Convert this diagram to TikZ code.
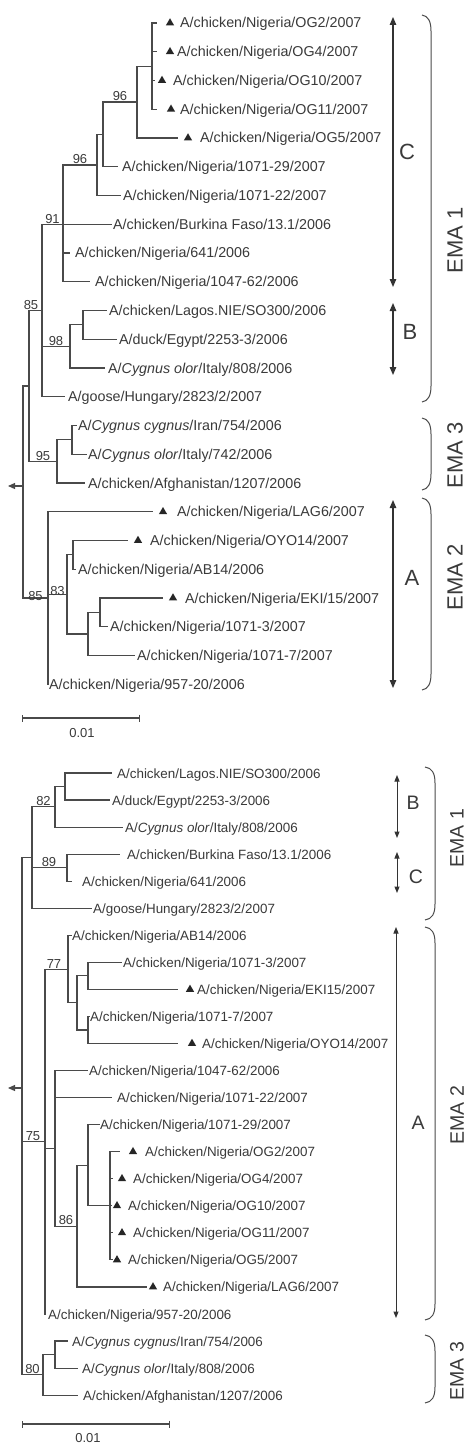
\documentclass[tikz,border=0pt]{standalone}
\usepackage{fontspec}
\setmainfont{Liberation Sans}
\usetikzlibrary{arrows.meta,shapes.geometric}
\definecolor{txtc}{HTML}{3A3A3A}
\definecolor{linec}{HTML}{4A4A4A}
\newcommand\myfT{\fontsize{14.3}{16}\selectfont}
\newcommand\myfB{\fontsize{13.4}{15}\selectfont}
\newcommand\myfS{\fontsize{13}{15}\selectfont}
\newcommand\myfL{\fontsize{22}{24}\selectfont}
\newcommand\myfLb{\fontsize{19.5}{22}\selectfont}
\newcommand\lf[7]{\coordinate (#1t) at (#3,#4);
  \node[#7] (#1) at (#5,#4+5) {#6};
  \draw[br] (#2) |- (#1t);}
\newcommand\trin[3]{\node[tri] (#1) at (#2,#3) {};}
\newcommand\brk[4]{\draw[brc] (#1,#3) .. controls (#2-3,#3+1) and (#2,#3+6) .. (#2,#3+16) -- (#2,#4-16) .. controls (#2,#4-6) and (#2-3,#4-1) .. (#1,#4);}
\begin{document}
\begin{tikzpicture}[x=1pt,y=-1pt,
  br/.style={draw=linec,line width=1.15pt},
  brc/.style={draw=linec,line width=1pt},
  tl/.style={anchor=base west,inner sep=0pt,text=txtc,font=\myfT},
  bl/.style={anchor=base west,inner sep=0pt,text=txtc,font=\myfB},
  bsup/.style={anchor=south,inner sep=0.8pt,text=txtc,font=\myfS},
  tri/.style={regular polygon,regular polygon sides=3,fill=black!85,inner sep=0pt,minimum size=9.5pt},
  garrow/.style={draw=black!80,line width=1.2pt,{Triangle[length=8pt,width=6.5pt]}-{Triangle[length=8pt,width=6.5pt]}},
  garrowb/.style={draw=black!80,line width=1pt,{Triangle[length=6.5pt,width=5pt]}-{Triangle[length=6.5pt,width=5pt]}},
  glet/.style={text=txtc,font=\myfL,inner sep=0pt},
  gletb/.style={text=txtc,font=\myfLb,inner sep=0pt},
  ema/.style={text=txtc,font=\myfL,rotate=90,inner sep=0pt},
  emab/.style={text=txtc,font=\myfLb,rotate=90,inner sep=0pt}]
\fill[white] (0,0) rectangle (474,1455);
\useasboundingbox (0,0) rectangle (474,1455);

% ================= TOP TREE =================
\coordinate (ogc) at (152,66.1);
\coordinate (n5) at (137,102);
\coordinate (n96a) at (103,134.4);
\coordinate (n96b) at (97,165);
\coordinate (nC) at (63,224.25);
\coordinate (nBs) at (83,324.9);
\coordinate (nB) at (70,346.4);
\coordinate (nE1) at (42,310.5);
\coordinate (nE3s) at (72,439.9);
\coordinate (nE3) at (57,461.4);
\coordinate (n13) at (29,386);
\coordinate (nA1) at (73,554.9);
\coordinate (nA2) at (100,612.4);
\coordinate (nA3) at (88,634);
\coordinate (n83) at (67,594.4);
\coordinate (nE2) at (48,598);
\coordinate (root) at (23,486);
\coordinate (rootend) at (8,486);

\draw[br] (n5) |- (ogc);
\draw[br] (n96a) |- (n5);
\draw[br] (n96b) |- (n96a);
\draw[br] (nC) |- (n96b);
\draw[br] (nE1) |- (nC);
\draw[br] (nB) |- (nBs);
\draw[br] (nE1) |- (nB);
\draw[br] (n13) |- (nE1);
\draw[br] (nE3) |- (nE3s);
\draw[br] (n13) |- (nE3);
\draw[br] (root) |- (n13);
\draw[br] (nA3) |- (nA2);
\draw[br] (n83) |- (nA1);
\draw[br] (n83) |- (nA3);
\draw[br] (nE2) |- (n83);
\draw[br] (root) |- (nE2);
\draw[br,-{Triangle[length=7pt,width=6pt]}] (root) -- (rootend);

\lf{tOGa}{ogc}{157}{23}{180}{A/chicken/Nigeria/OG2/2007}{tl}
\lf{tOGb}{ogc}{157}{51.75}{177}{A/chicken/Nigeria/OG4/2007}{tl}
\lf{tOGc}{ogc}{155}{80.5}{173}{A/chicken/Nigeria/OG10/2007}{tl}
\lf{tOGd}{ogc}{157}{109.25}{180}{A/chicken/Nigeria/OG11/2007}{tl}
\lf{tOGe}{n5}{178}{138}{200}{A/chicken/Nigeria/OG5/2007}{tl}
\trin{tmA}{170}{23}
\trin{tmB}{170}{51.75}
\trin{tmC}{162}{80.5}
\trin{tmD}{171}{109.25}
\trin{tmE}{188}{138}
\lf{tN29}{n96a}{118}{166.75}{122}{A/chicken/Nigeria/1071-29/2007}{tl}
\lf{tN22}{n96b}{121}{195.5}{123}{A/chicken/Nigeria/1071-22/2007}{tl}
\lf{tBF}{nC}{112}{224.25}{113}{A/chicken/Burkina Faso/13.1/2006}{tl}
\lf{tN641}{nC}{70}{253}{75}{A/chicken/Nigeria/641/2006}{tl}
\lf{tN1047}{nC}{90}{281.75}{95}{A/chicken/Nigeria/1047-62/2006}{tl}
\lf{tLag}{nBs}{107}{310.5}{109}{A/chicken/Lagos.NIE/SO300/2006}{tl}
\lf{tDuck}{nBs}{117}{339.25}{119}{A/duck/Egypt/2253-3/2006}{tl}
\lf{tCo808}{nB}{105}{368}{108}{A/\textit{Cygnus olor}/Italy/808/2006}{tl}
\lf{tGoose}{nE1}{65}{396.75}{68}{A/goose/Hungary/2823/2/2007}{tl}
\lf{tCc}{nE3s}{77}{425.5}{78}{A/\textit{Cygnus cygnus}/Iran/754/2006}{tl}
\lf{tCo742}{nE3s}{87}{454.25}{88}{A/\textit{Cygnus olor}/Italy/742/2006}{tl}
\lf{tAfg}{nE3}{85}{483}{88}{A/chicken/Afghanistan/1207/2006}{tl}
\lf{tLAG}{nE2}{153}{511.75}{177}{A/chicken/Nigeria/LAG6/2007}{tl}
\lf{tOYO}{nA1}{128}{540.5}{150}{A/chicken/Nigeria/OYO14/2007}{tl}
\lf{tAB}{nA1}{76}{569.25}{78}{A/chicken/Nigeria/AB14/2006}{tl}
\lf{tEKI}{nA2}{163}{598}{185}{A/chicken/Nigeria/EKI/15/2007}{tl}
\lf{tN3}{nA2}{108}{626.75}{110}{A/chicken/Nigeria/1071-3/2007}{tl}
\lf{tN7}{nA3}{135}{655.5}{137}{A/chicken/Nigeria/1071-7/2007}{tl}
\lf{tN957}{nE2}{49}{684.25}{49}{A/chicken/Nigeria/957-20/2006}{tl}
\trin{tmF}{163}{511.75}
\trin{tmG}{138}{540.5}
\trin{tmH}{173}{598}

\node[bsup] (sA) at (120,102) {96};
\node[bsup] (sB) at (80,165) {96};
\node[bsup] (sC) at (52.5,224.25) {91};
\node[bsup] (sD) at (31,310.5) {85};
\node[bsup] (sE) at (56,346.4) {98};
\node[bsup] (sF) at (43,461.4) {95};
\node[bsup] (sG) at (35.5,602) {85};
\node[bsup] (sH) at (57.5,597) {83};

\coordinate (sbA1) at (22,718);
\coordinate (sbA2) at (140,718);
\draw[br,{Bar[width=7pt]}-{Bar[width=7pt]}] (sbA1) -- (sbA2);
\node[text=txtc,font=\myfS,inner sep=0pt] (sbAt) at (82,733) {0.01};

\coordinate (gC1) at (393,17);
\coordinate (gC2) at (393,287);
\draw[garrow] (gC1) -- (gC2);
\node[glet] (gCt) at (407,152) {C};
\coordinate (gB1) at (393,303);
\coordinate (gB2) at (393,375);
\draw[garrow] (gB1) -- (gB2);
\node[glet] (gBt) at (410,332) {B};
\coordinate (gA1) at (393,500);
\coordinate (gA2) at (393,688);
\draw[garrow] (gA1) -- (gA2);
\node[glet] (gAt) at (412,578) {A};
\brk{422}{431}{15}{402}
\brk{422}{431}{418}{490}
\brk{422}{431}{498}{690}
\node[ema] (eA1) at (455,240) {EMA 1};
\node[ema] (eA3) at (455,455) {EMA 3};
\node[ema] (eA2) at (455,577) {EMA 2};

% ================= BOTTOM TREE =================
\coordinate (bBs) at (65,786.5);
\coordinate (bB) at (55,806.8);
\coordinate (bC) at (67,867.7);
\coordinate (bE1) at (32,857.5);
\coordinate (bA1) at (88,975.9);
\coordinate (bA2) at (88,1030);
\coordinate (bA3) at (77,1002.9);
\coordinate (b77) at (68,969.1);
\coordinate (bOG) at (110,1205.8);
\coordinate (bX) at (88,1165.2);
\coordinate (b86) at (77,1226.1);
\coordinate (bBig) at (55,1148.3);
\coordinate (bE2) at (45,1141.5);
\coordinate (bE3s) at (55,1354.6);
\coordinate (bE3) at (43,1374.9);
\coordinate (broot) at (22,1088);
\coordinate (brootend) at (8,1088);

\draw[br] (bB) |- (bBs);
\draw[br] (bE1) |- (bB);
\draw[br] (bE1) |- (bC);
\draw[br] (broot) |- (bE1);
\draw[br] (bA3) |- (bA1);
\draw[br] (bA3) |- (bA2);
\draw[br] (b77) |- (bA3);
\draw[br] (bE2) |- (b77);
\draw[br] (bX) |- (bOG);
\draw[br] (b86) |- (bX);
\draw[br] (bBig) |- (b86);
\draw[br] (bE2) |- (bBig);
\draw[br] (broot) |- (bE2);
\draw[br] (bE3) |- (bE3s);
\draw[br] (broot) |- (bE3);
\draw[br,-{Triangle[length=7pt,width=6pt]}] (broot) -- (brootend);

\lf{bLag}{bBs}{112}{773}{117}{A/chicken/Lagos.NIE/SO300/2006}{bl}
\lf{bDuck}{bBs}{110}{800.05}{112}{A/duck/Egypt/2253-3/2006}{bl}
\lf{bCo808a}{bB}{123}{827.1}{125}{A/\textit{Cygnus olor}/Italy/808/2006}{bl}
\lf{bBF}{bC}{120}{854.15}{127}{A/chicken/Burkina Faso/13.1/2006}{bl}
\lf{bN641}{bC}{72}{881.2}{82}{A/chicken/Nigeria/641/2006}{bl}
\lf{bGoose}{bE1}{92}{908.25}{93}{A/goose/Hungary/2823/2/2007}{bl}
\lf{bAB}{b77}{72}{935.3}{72}{A/chicken/Nigeria/AB14/2006}{bl}
\lf{bN3}{bA1}{122}{962.35}{123}{A/chicken/Nigeria/1071-3/2007}{bl}
\lf{bEKI}{bA1}{178}{989.4}{197}{A/chicken/Nigeria/EKI15/2007}{bl}
\lf{bN7}{bA2}{90}{1016.45}{90}{A/chicken/Nigeria/1071-7/2007}{bl}
\lf{bOYO}{bA2}{178}{1043.5}{202}{A/chicken/Nigeria/OYO14/2007}{bl}
\lf{bN1047}{bBig}{88}{1070.55}{89}{A/chicken/Nigeria/1047-62/2006}{bl}
\lf{bN22}{bBig}{112}{1097.6}{117}{A/chicken/Nigeria/1071-22/2007}{bl}
\lf{bN29}{bX}{100}{1124.65}{100}{A/chicken/Nigeria/1071-29/2007}{bl}
\lf{bOGa}{bOG}{120}{1151.7}{145}{A/chicken/Nigeria/OG2/2007}{bl}
\lf{bOGb}{bOG}{113}{1178.75}{133}{A/chicken/Nigeria/OG4/2007}{bl}
\lf{bOGc}{bOG}{112}{1205.8}{128}{A/chicken/Nigeria/OG10/2007}{bl}
\lf{bOGd}{bOG}{113}{1232.85}{133}{A/chicken/Nigeria/OG11/2007}{bl}
\lf{bOGe}{bOG}{113}{1259.9}{128}{A/chicken/Nigeria/OG5/2007}{bl}
\lf{bLAG}{b86}{147}{1286.95}{163}{A/chicken/Nigeria/LAG6/2007}{bl}
\lf{bN957}{bE2}{46}{1314}{48}{A/chicken/Nigeria/957-20/2006}{bl}
\lf{bCc}{bE3s}{68}{1341.05}{72}{A/\textit{Cygnus cygnus}/Iran/754/2006}{bl}
\lf{bCo808b}{bE3s}{78}{1368.1}{82}{A/\textit{Cygnus olor}/Italy/808/2006}{bl}
\lf{bAfg}{bE3}{78}{1395.15}{83}{A/chicken/Afghanistan/1207/2006}{bl}
\trin{bmA}{190}{989.4}
\trin{bmB}{192}{1043.5}
\trin{bmC}{133}{1151.7}
\trin{bmD}{122}{1178.75}
\trin{bmE}{117}{1205.8}
\trin{bmF}{122}{1232.85}
\trin{bmG}{117}{1259.9}
\trin{bmH}{153}{1286.95}

\node[bsup] (bsA) at (43.5,806.8) {82};
\node[bsup] (bsB) at (49,867.7) {89};
\node[bsup] (bsC) at (54,969.1) {77};
\node[bsup] (bsD) at (33,1141.5) {75};
\node[bsup] (bsE) at (66,1226.1) {86};
\node[bsup] (bsF) at (32.5,1374.9) {80};

\coordinate (sbB1) at (22,1424);
\coordinate (sbB2) at (170,1424);
\draw[br,{Bar[width=7pt]}-{Bar[width=7pt]}] (sbB1) -- (sbB2);
\node[text=txtc,font=\myfS,inner sep=0pt] (sbBt) at (88,1438) {0.01};

\coordinate (hB1) at (397,775);
\coordinate (hB2) at (397,838);
\draw[garrowb] (hB1) -- (hB2);
\node[gletb] (hBt) at (413,803) {B};
\coordinate (hC1) at (397,852);
\coordinate (hC2) at (397,893);
\draw[garrowb] (hC1) -- (hC2);
\node[gletb] (hCt) at (416,877) {C};
\coordinate (hA1) at (396,927);
\coordinate (hA2) at (396,1318);
\draw[garrowb] (hA1) -- (hA2);
\node[gletb] (hAt) at (418,1123) {A};
\brk{425}{435}{767}{920}
\brk{425}{435}{927}{1320}
\brk{425}{435}{1335}{1403}
\node[emab] (eB1) at (457,838) {EMA 1};
\node[emab] (eB2) at (457,1115) {EMA 2};
\node[emab] (eB3) at (457,1371) {EMA 3};
\end{tikzpicture}
\end{document}
